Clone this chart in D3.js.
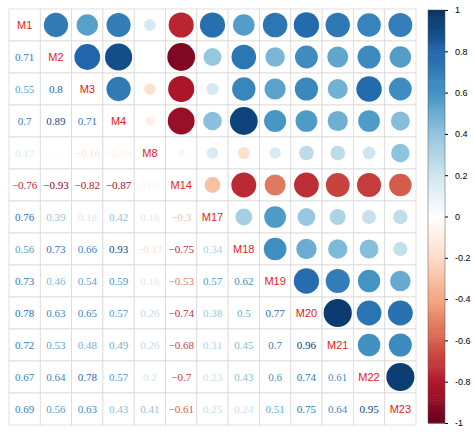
<!DOCTYPE html>
<html><head><meta charset="utf-8">
<script src="https://cdn.jsdelivr.net/npm/d3@7"></script>
<style>body{margin:0;background:#fff}</style>
</head><body><svg id="c" width="474" height="433"></svg>
<script>
var labels = ["M1","M2","M3","M4","M8","M14","M17","M18","M19","M20","M21","M22","M23"];
// lower triangle, row by row
var lower = [
  [],
  [0.71],
  [0.55,0.8],
  [0.7,0.89,0.71],
  [0.17,0.01,-0.16,-0.09],
  [-0.76,-0.93,-0.82,-0.87,0.06],
  [0.76,0.39,0.18,0.42,0.16,-0.3],
  [0.56,0.73,0.66,0.93,-0.17,-0.75,0.34],
  [0.73,0.46,0.54,0.59,0.16,-0.53,0.57,0.62],
  [0.78,0.63,0.65,0.57,0.26,-0.74,0.38,0.5,0.77],
  [0.72,0.53,0.48,0.49,0.26,-0.68,0.31,0.45,0.7,0.96],
  [0.67,0.64,0.78,0.57,0.2,-0.7,0.23,0.43,0.6,0.74,0.61],
  [0.69,0.56,0.63,0.43,0.41,-0.61,0.25,0.24,0.51,0.75,0.64,0.95]
];
var barTicks = [-1,-0.8,-0.6,-0.4,-0.2,0,0.2,0.4,0.6,0.8,1];
var palette = ["#67001F","#B2182B","#D6604D","#F4A582","#FDDBC7","#FFFFFF","#D1E5F0","#92C5DE","#4393C3","#2166AC","#053061"];

var n = labels.length;
var svg = d3.select("#c");
var x = d3.scaleBand().domain(d3.range(n)).range([9, 416]);
var y = d3.scaleBand().domain(d3.range(n)).range([9, 425]);
var color = d3.scaleLinear().domain(d3.range(11).map(function(i){return -1 + i*0.2;})).range(palette);

function val(i, j) { return i > j ? lower[i][j] : lower[j][i]; }

var cells = [];
for (var i = 0; i < n; i++) for (var j = 0; j < n; j++) cells.push({i: i, j: j});

svg.selectAll("rect.cell").data(cells).enter().append("rect")
  .attr("x", function(d){return x(d.j);}).attr("y", function(d){return y(d.i);})
  .attr("width", x.bandwidth()).attr("height", y.bandwidth())
  .attr("fill", "#fff").attr("stroke", "#d9d9d9").attr("stroke-width", 0.8);

var upper = cells.filter(function(d){return d.j > d.i;});
svg.selectAll("circle.c").data(upper).enter().append("circle")
  .attr("cx", function(d){return x(d.j) + x.bandwidth()/2;})
  .attr("cy", function(d){return y(d.i) + y.bandwidth()/2;})
  .attr("r", function(d){return Math.sqrt(Math.abs(val(d.i,d.j))) * x.bandwidth()*0.46;})
  .attr("fill", function(d){return color(val(d.i,d.j));});

var low = cells.filter(function(d){return d.j < d.i;});
svg.selectAll("text.v").data(low).enter().append("text")
  .attr("x", function(d){return x(d.j) + x.bandwidth()/2;})
  .attr("y", function(d){return y(d.i) + y.bandwidth()/2 + 4;})
  .attr("text-anchor", "middle").attr("font-family", "Liberation Serif, serif").attr("font-size", 11)
  .attr("fill", function(d){return color(val(d.i,d.j));})
  .text(function(d){var v = val(d.i,d.j); return (v < 0 ? "\u2212" + Math.abs(v) : v);});

svg.selectAll("text.l").data(labels).enter().append("text")
  .attr("x", function(d,i){return x(i) + x.bandwidth()/2;})
  .attr("y", function(d,i){return y(i) + y.bandwidth()/2 + 4;})
  .attr("text-anchor", "middle").attr("font-family", "Liberation Sans, Arial, sans-serif").attr("font-size", 11)
  .attr("fill", "#e8191c").text(function(d){return d;});

// colour bar
var cb = d3.scaleLinear().domain([-1, 1]).range([423, 10]);
var steps = d3.range(200).map(function(k){return -1 + (k + 0.5) * 0.01;});
svg.selectAll("rect.cb").data(steps).enter().append("rect")
  .attr("x", 428).attr("width", 17)
  .attr("y", function(d){return cb(d + 0.005);})
  .attr("height", function(d){return cb(d - 0.005) - cb(d + 0.005) + 0.5;})
  .attr("fill", function(d){return color(d);});
svg.append("rect").attr("x", 428).attr("y", 10).attr("width", 17).attr("height", 413)
  .attr("fill", "none").attr("stroke", "#555").attr("stroke-width", 0.5);
var ax = svg.append("g").attr("transform", "translate(445,0)")
  .call(d3.axisRight(cb).tickValues(barTicks).tickSize(3).tickFormat(d3.format("")));
ax.select(".domain").remove();
ax.selectAll("text").attr("font-family", "Liberation Sans, Arial, sans-serif").attr("font-size", 9).attr("fill", "#000").attr("dx", 4)
  .text(function(d){return d < 0 ? "-" + Math.abs(d) : d;});
</script></body></html>
